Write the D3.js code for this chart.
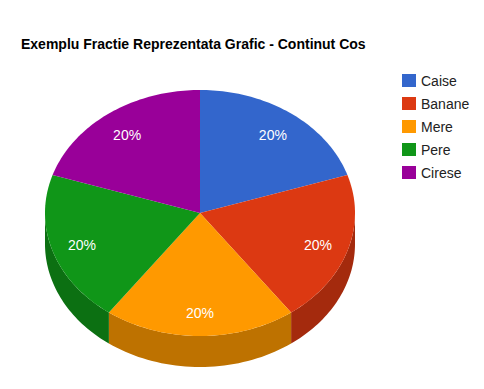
<!doctype html>
<html>
<head>
<meta charset="utf8">
<script src="https://d3js.org/d3.v7.min.js"></script>
<style>
    body { margin: 0; background: #fff; }
    text { font-family: "Liberation Sans", Arial, sans-serif; }
</style>
</head>
<body>
<svg width="484" height="389"></svg>
<script>
    var categories = ["Caise", "Banane", "Mere", "Pere", "Cirese"];
    var values = [20, 20, 20, 20, 20];
    var colors = ["#3366cc", "#dc3912", "#ff9900", "#109618", "#990099"];
    var title = "Exemplu Fractie Reprezentata Grafic - Continut Cos";

    var svg = d3.select("svg");

    var cx = 200, cy = 213, rx = 155, ry = 123, depth = 31;

    svg.append("text")
       .attr("x", 21)
       .attr("y", 49)
       .attr("font-size", "14px")
       .attr("font-weight", "bold")
       .attr("fill", "#000")
       .text(title);

    var data = categories.map(function(c, i) { return {name: c, value: values[i], color: colors[i]}; });
    var arcs = d3.pie().sort(null).value(function(d) { return d.value; })(data);
    var total = d3.sum(values);

    // angle 0 = 12 o'clock, clockwise
    function px(a, r) { return cx + rx * r * Math.sin(a); }
    function py(a, r) { return cy - ry * r * Math.cos(a); }

    function darker(c) { return d3.rgb(c).darker(0.83).formatHex(); }

    var line = d3.line();

    // side walls (front half only)
    var sides = svg.append("g");
    arcs.forEach(function(a) {
        var a0 = Math.max(a.startAngle, Math.PI / 2),
            a1 = Math.min(a.endAngle, Math.PI * 1.5);
        if (a1 <= a0) return;
        var pts = [], n = 40, i, t;
        for (i = 0; i <= n; i++) {
            t = a0 + (a1 - a0) * i / n;
            pts.push([px(t, 1), py(t, 1)]);
        }
        for (i = n; i >= 0; i--) {
            t = a0 + (a1 - a0) * i / n;
            pts.push([px(t, 1), py(t, 1) + depth]);
        }
        sides.append("path")
             .attr("d", line(pts) + "Z")
             .attr("fill", darker(a.data.color));
    });

    // top slices
    var tops = svg.append("g");
    arcs.forEach(function(a) {
        var pts = [[cx, cy]], n = 60;
        for (var i = 0; i <= n; i++) {
            var t = a.startAngle + (a.endAngle - a.startAngle) * i / n;
            pts.push([px(t, 1), py(t, 1)]);
        }
        tops.append("path")
            .attr("d", line(pts) + "Z")
            .attr("fill", a.data.color);
    });

    // labels
    arcs.forEach(function(a) {
        var m = (a.startAngle + a.endAngle) / 2;
        svg.append("text")
           .attr("x", px(m, 0.8))
           .attr("y", py(m, 0.8) + 7)
           .attr("text-anchor", "middle")
           .attr("font-size", "14px")
           .attr("fill", "#fff")
           .text(Math.round(a.data.value / total * 100) + "%");
    });

    // legend
    var legend = svg.append("g").attr("transform", "translate(402,74)");
    var item = legend.selectAll("g").data(data).enter().append("g")
        .attr("transform", function(d, i) { return "translate(0," + i * 23 + ")"; });
    item.append("rect")
        .attr("width", 14).attr("height", 13)
        .attr("fill", function(d) { return d.color; });
    item.append("text")
        .attr("x", 19).attr("y", 12)
        .attr("font-size", "14px")
        .attr("fill", "#222")
        .text(function(d) { return d.name; });
</script>
</body>
</html>
